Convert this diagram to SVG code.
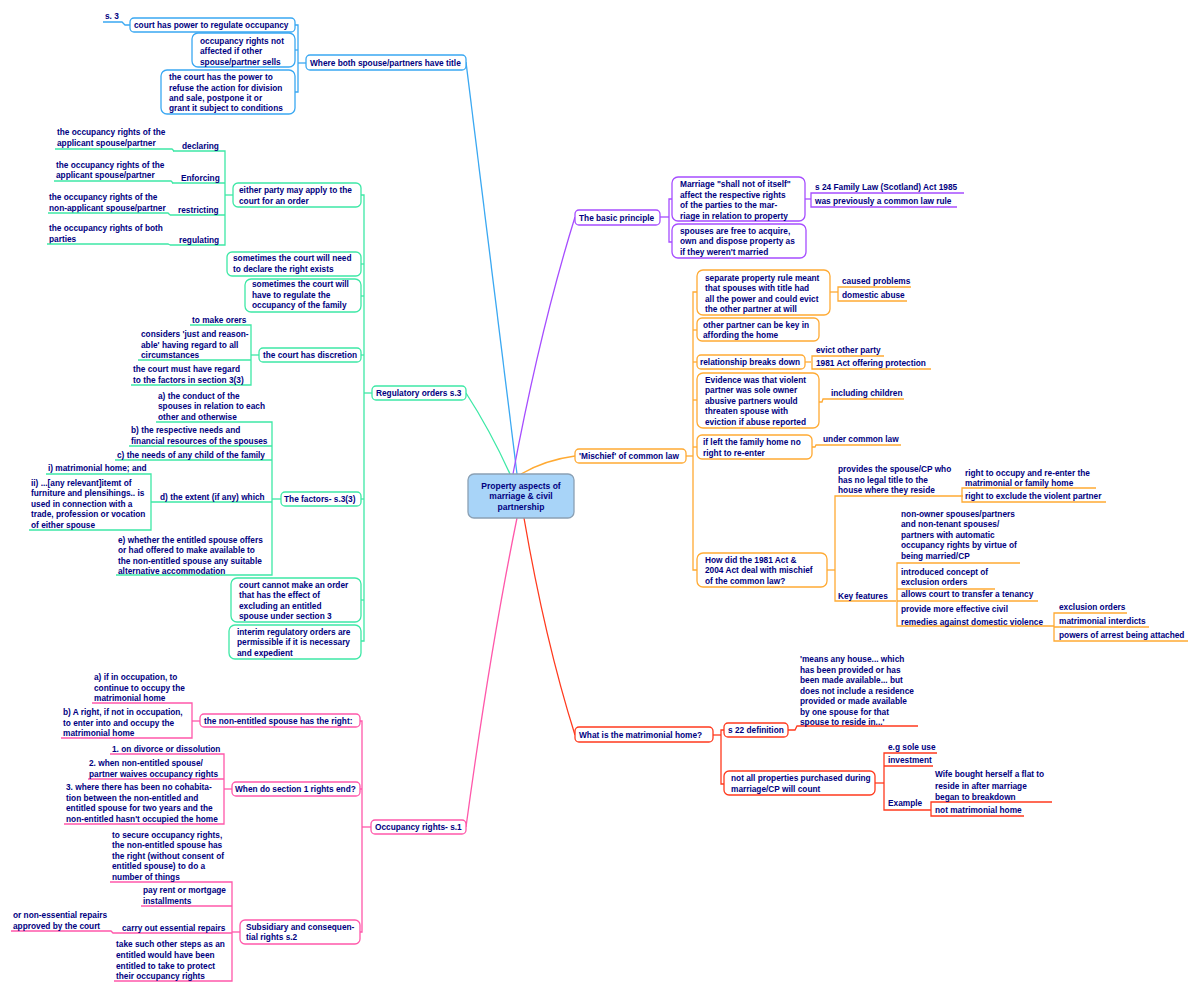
<svg xmlns="http://www.w3.org/2000/svg" width="1200" height="993" viewBox="0 0 1200 993">
<style>
text{font-family:"Liberation Sans",Arial,sans-serif;font-weight:bold;font-size:8.3px;fill:#000080}
.c text{font-size:8.5px}
rect{fill:#fff;stroke-width:1.3}
path,polyline,line{fill:none;stroke-width:1.3}
.B rect,.B path,.B polyline{stroke:#3aa8f2}
.G rect,.G path,.G polyline{stroke:#3ee8a6}
.P rect,.P path,.P polyline{stroke:#ff58aa}
.V rect,.V path,.V polyline{stroke:#a64dff}
.O rect,.O path,.O polyline{stroke:#ffaa33}
.R rect,.R path,.R polyline{stroke:#ff3a1e}
</style>
<rect width="1200" height="993" fill="#fff" style="stroke:none"/>
<g id="connectors">
<path d="M517,474 Q490,260 466,62" stroke="#3aa8f2"/>
<path d="M510,474 Q490,430 466,393" stroke="#3ee8a6"/>
<path d="M517,518 Q490,650 466,827" stroke="#ff58aa"/>
<path d="M513,474 Q540,330 575,217" stroke="#a64dff"/>
<path d="M521,474 Q545,460 575,456" stroke="#ffaa33"/>
<path d="M524,518 Q545,640 575,735" stroke="#ff3a1e"/>
</g>
<g id="center" class="c"><rect x="468" y="474" width="106" height="44" rx="6" style="fill:#a8d4f8;stroke:#8aa0b4"/>
<text text-anchor="middle"><tspan x="521" y="489">Property aspects of</tspan><tspan x="521" y="499">marriage &amp; civil</tspan><tspan x="521" y="510">partnership</tspan></text></g>

<g id="blue" class="B">
<rect x="306" y="55" width="160" height="15" rx="4"/><text x="310" y="66">Where both spouse/partners have title</text>
<polyline points="306,63 298,63"/><polyline points="295,25 298,25 298,92 295,92"/><polyline points="295,50 298,50"/>
<rect x="130" y="18" width="165" height="14" rx="4"/><text x="134" y="28">court has power to regulate occupancy</text>
<text x="105" y="19">s. 3</text><polyline points="103,22 122,22 125,25 130,25"/>
<rect x="192" y="33" width="103" height="34" rx="6"/><text><tspan x="200" y="44">occupancy rights not</tspan><tspan x="200" y="54">affected if other</tspan><tspan x="200" y="65">spouse/partner sells</tspan></text>
<rect x="161" y="70" width="134" height="44" rx="6"/><text><tspan x="169" y="80">the court has the power to</tspan><tspan x="169" y="91">refuse the action for division</tspan><tspan x="169" y="101">and sale, postpone it or</tspan><tspan x="169" y="111">grant it subject to conditions</tspan></text>
</g>

<g id="green" class="G">
<rect x="372" y="386" width="94" height="14" rx="4"/><text x="376" y="396">Regulatory orders s.3</text>
<polyline points="372,393 364,393"/><polyline points="361,195 364,195 364,641 361,641"/>
<polyline points="361,264 364,264"/><polyline points="361,296 364,296"/><polyline points="361,355 364,355"/><polyline points="361,499 364,499"/><polyline points="361,600 364,600"/>
<rect x="233" y="183" width="128" height="24" rx="5"/><text><tspan x="239" y="193">either party may apply to the</tspan><tspan x="239" y="204">court for an order</tspan></text>
<polyline points="233,195 225,195"/><polyline points="173,151 225,151 225,245 170,245"/><polyline points="172,183 225,183"/><polyline points="170,215 225,215"/>
<text x="182" y="149">declaring</text><text><tspan x="57" y="135">the occupancy rights of the</tspan><tspan x="57" y="146">applicant spouse/partner</tspan></text><polyline points="55,149 172,149 174,151"/>
<text x="181" y="181">Enforcing</text><text><tspan x="56" y="168">the occupancy rights of the</tspan><tspan x="56" y="178">applicant spouse/partner</tspan></text><polyline points="54,181 171,181 173,183"/>
<text x="178" y="213">restricting</text><text><tspan x="49" y="200">the occupancy rights of the</tspan><tspan x="49" y="211">non-applicant spouse/partner</tspan></text><polyline points="48,213 168,213 170,215"/>
<text x="179" y="243">regulating</text><text><tspan x="49" y="231">the occupancy rights of both</tspan><tspan x="49" y="242">parties</tspan></text><polyline points="47,244 168,244 170,245"/>
<rect x="227" y="252" width="134" height="24" rx="5"/><text><tspan x="233" y="261">sometimes the court will need</tspan><tspan x="233" y="272">to declare the right exists</tspan></text>
<rect x="245" y="279" width="116" height="33" rx="6"/><text><tspan x="252" y="287">sometimes the court will</tspan><tspan x="252" y="298">have to regulate the</tspan><tspan x="252" y="308">occupancy of the family</tspan></text>
<rect x="259" y="348" width="102" height="14" rx="4"/><text x="263" y="358">the court has discretion</text>
<polyline points="259,355 251,355"/><polyline points="190,325 251,325 251,385 131,385"/><polyline points="138,360 251,360"/>
<text x="192" y="323">to make orers</text>
<text><tspan x="141" y="337">considers 'just and reason-</tspan><tspan x="141" y="348">able' having regard to all</tspan><tspan x="141" y="358">circumstances</tspan></text>
<text><tspan x="133" y="372">the court must have regard</tspan><tspan x="133" y="383">to the factors in section 3(3)</tspan></text>
<rect x="281" y="492" width="80" height="14" rx="4"/><text x="284" y="502">The factors- s.3(3)</text>
<polyline points="281,499 272,499"/><polyline points="156,422 272,422 272,575 116,575"/><polyline points="129,446 272,446"/><polyline points="115,460 272,460"/><polyline points="152,502 272,502"/>
<text><tspan x="158" y="399">a) the conduct of the</tspan><tspan x="158" y="409">spouses in relation to each</tspan><tspan x="158" y="420">other and otherwise</tspan></text>
<text><tspan x="131" y="433">b) the respective needs and</tspan><tspan x="131" y="444">financial resources of the spouses</tspan></text>
<text x="117" y="458">c) the needs of any child of the family</text>
<text x="160" y="500">d) the extent (if any) which</text>
<polyline points="46,474 151,474 151,530 29,530"/><polyline points="151,502 152,502"/>
<text x="48" y="471">i) matrimonial home; and</text>
<text><tspan x="31" y="486">ii) ...[any relevant]itemt of</tspan><tspan x="31" y="496">furniture and plensihings.. is</tspan><tspan x="31" y="507">used in connection with a</tspan><tspan x="31" y="517">trade, profession or vocation</tspan><tspan x="31" y="528">of either spouse</tspan></text>
<text><tspan x="118" y="543">e) whether the entitled spouse offers</tspan><tspan x="118" y="553">or had offered to make available to</tspan><tspan x="118" y="564">the non-entitled spouse any suitable</tspan><tspan x="118" y="574">alternative accommodation</tspan></text>
<rect x="231" y="578" width="130" height="44" rx="6"/><text><tspan x="239" y="588">court cannot make an order</tspan><tspan x="239" y="598">that has the effect of</tspan><tspan x="239" y="609">excluding an entitled</tspan><tspan x="239" y="619">spouse under section 3</tspan></text>
<rect x="229" y="625" width="132" height="34" rx="6"/><text><tspan x="237" y="635">interim regulatory orders are</tspan><tspan x="237" y="645">permissible if it is necessary</tspan><tspan x="237" y="656">and expedient</tspan></text>
</g>

<g id="pink" class="P">
<rect x="371" y="820" width="95" height="14" rx="4"/><text x="375" y="830">Occupancy rights- s.1</text>
<polyline points="371,827 362,827"/><polyline points="360,721 362,721 362,932 360,932"/><polyline points="360,789 362,789"/>
<rect x="200" y="714" width="160" height="13" rx="4"/><text x="204" y="724">the non-entitled spouse has the right:</text>
<polyline points="200,721 192,721"/><polyline points="92,703 192,703 192,738 61,738"/>
<text><tspan x="94" y="680">a) if in occupation, to</tspan><tspan x="94" y="691">continue to occupy the</tspan><tspan x="94" y="701">matrimonial home</tspan></text>
<text><tspan x="63" y="715">b) A right, if not in occupation,</tspan><tspan x="63" y="726">to enter into and occupy the</tspan><tspan x="63" y="736">matrimonial home</tspan></text>
<rect x="232" y="782" width="128" height="14" rx="4"/><text x="235" y="792">When do section 1 rights end?</text>
<polyline points="232,789 224,789"/><polyline points="110,754 224,754 224,824 64,824"/><polyline points="88,779 224,779"/>
<text x="112" y="752">1. on divorce or dissolution</text>
<text><tspan x="89" y="766">2. when non-entitled spouse/</tspan><tspan x="89" y="777">partner waives occupancy rights</tspan></text>
<text><tspan x="66" y="790">3. where there has been no cohabita-</tspan><tspan x="66" y="801">tion between the non-entitled and</tspan><tspan x="66" y="811">entitled spouse for two years and the</tspan><tspan x="66" y="822">non-entitled hasn't occupied the home</tspan></text>
<rect x="240" y="920" width="120" height="24" rx="5"/><text><tspan x="246" y="930">Subsidiary and consequen-</tspan><tspan x="246" y="940">tial rights s.2</tspan></text>
<polyline points="240,932 232,932"/><polyline points="110,882 232,882 232,981 114,981"/><polyline points="141,906 232,906"/><polyline points="11,931 111,931 113,933 232,933"/>
<text><tspan x="112" y="838">to secure occupancy rights,</tspan><tspan x="112" y="848">the non-entitled spouse has</tspan><tspan x="112" y="859">the right (without consent of</tspan><tspan x="112" y="869">entitled spouse) to do a</tspan><tspan x="112" y="880">number of things</tspan></text>
<text><tspan x="143" y="893">pay rent or mortgage</tspan><tspan x="143" y="904">installments</tspan></text>
<text x="122" y="931">carry out essential repairs</text>
<text><tspan x="13" y="918">or non-essential repairs</tspan><tspan x="13" y="929">approved by the court</tspan></text>
<text><tspan x="116" y="947">take such other steps as an</tspan><tspan x="116" y="958">entitled would have been</tspan><tspan x="116" y="969">entitled to take to protect</tspan><tspan x="116" y="979">their occupancy rights</tspan></text>
</g>

<g id="purple" class="V">
<rect x="575" y="210" width="85" height="15" rx="4"/><text x="579" y="221">The basic principle</text>
<polyline points="660,217 669,217"/><polyline points="672,199 669,199 669,242 672,242"/>
<rect x="672" y="177" width="133" height="44" rx="6"/><text><tspan x="680" y="187">Marriage "shall not of itself"</tspan><tspan x="680" y="198">affect the respective rights</tspan><tspan x="680" y="208">of the parties to the mar-</tspan><tspan x="680" y="219">riage in relation to property</tspan></text>
<polyline points="805,199 811,199"/><polyline points="964,193 812,193 811,193 811,207 957,207"/>
<text x="815" y="190">s 24 Family Law (Scotland) Act 1985</text>
<text x="815" y="204">was previously a common law rule</text>
<rect x="672" y="224" width="134" height="34" rx="6"/><text><tspan x="680" y="234">spouses are free to acquire,</tspan><tspan x="680" y="244">own and dispose property as</tspan><tspan x="680" y="255">if they weren't married</tspan></text>
</g>

<g id="orange" class="O">
<rect x="575" y="449" width="111" height="14" rx="4"/><text x="579" y="459">'Mischief' of common law</text>
<polyline points="686,456 693,456"/><polyline points="697,292 693,292 693,570 697,570"/>
<polyline points="693,330 697,330"/><polyline points="693,362 697,362"/><polyline points="693,400 697,400"/><polyline points="693,447 697,447"/>
<rect x="697" y="270" width="133" height="45" rx="6"/><text><tspan x="705" y="281">separate property rule meant</tspan><tspan x="705" y="291">that spouses with title had</tspan><tspan x="705" y="302">all the power and could evict</tspan><tspan x="705" y="312">the other partner at will</tspan></text>
<polyline points="830,292 838,292"/><polyline points="911,287 838,287 838,301 907,301"/>
<text x="842" y="284">caused problems</text><text x="842" y="298">domestic abuse</text>
<rect x="697" y="318" width="122" height="23" rx="5"/><text><tspan x="703" y="328">other partner can be key in</tspan><tspan x="703" y="338">affording the home</tspan></text>
<rect x="697" y="355" width="108" height="14" rx="4"/><text x="700" y="365">relationship breaks down</text>
<polyline points="805,362 811,362"/><polyline points="884,356 812,356 812,369 931,369"/>
<text x="816" y="353">evict other party</text><text x="816" y="366">1981 Act offering protection</text>
<rect x="697" y="373" width="122" height="55" rx="6"/><text><tspan x="705" y="383">Evidence was that violent</tspan><tspan x="705" y="393">partner was sole owner</tspan><tspan x="705" y="404">abusive partners would</tspan><tspan x="705" y="414">threaten spouse with</tspan><tspan x="705" y="425">eviction if abuse reported</tspan></text>
<polyline points="819,402 822,402 823,399 904,399"/><text x="831" y="396">including children</text>
<rect x="697" y="435" width="115" height="24" rx="5"/><text><tspan x="703" y="445">if left the family home no</tspan><tspan x="703" y="456">right to re-enter</tspan></text>
<polyline points="812,447 815,447 816,445 901,445"/><text x="823" y="442">under common law</text>
<rect x="697" y="553" width="130" height="34" rx="6"/><text><tspan x="705" y="563">How did the 1981 Act &amp;</tspan><tspan x="705" y="573">2004 Act deal with mischief</tspan><tspan x="705" y="584">of the common law?</tspan></text>
<polyline points="827,570 835,570"/><polyline points="963,496 835,496 835,601 896,601"/>
<text><tspan x="838" y="472">provides the spouse/CP who</tspan><tspan x="838" y="483">has no legal title to the</tspan><tspan x="838" y="493">house where they reside</tspan></text>
<polyline points="1096,488 962,488 962,502 1106,502"/>
<text><tspan x="965" y="476">right to occupy and re-enter the</tspan><tspan x="965" y="486">matrimonial or family home</tspan></text>
<text x="965" y="499">right to exclude the violent partner</text>
<text x="838" y="599">Key features</text>
<polyline points="1020,563 897,563 897,626 1054,626"/><polyline points="897,589 995,589"/><polyline points="897,601 1038,601"/>
<text><tspan x="901" y="517">non-owner spouses/partners</tspan><tspan x="901" y="527">and non-tenant spouses/</tspan><tspan x="901" y="538">partners with automatic</tspan><tspan x="901" y="548">occupancy rights by virtue of</tspan><tspan x="901" y="559">being married/CP</tspan></text>
<text><tspan x="901" y="575">introduced concept of</tspan><tspan x="901" y="585">exclusion orders</tspan></text>
<text x="901" y="597">allows court to transfer a tenancy</text>
<text><tspan x="901" y="612">provide more effective civil</tspan><tspan x="901" y="625">remedies against domestic violence</tspan></text>
<polyline points="1127,613 1054,613 1054,641 1188,641"/><polyline points="1054,627 1149,627"/>
<text x="1059" y="610">exclusion orders</text><text x="1059" y="624">matrimonial interdicts</text><text x="1059" y="638">powers of arrest being attached</text>
</g>

<g id="red" class="R">
<rect x="575" y="727" width="138" height="15" rx="4"/><text x="579" y="738">What is the matrimonial home?</text>
<polyline points="713,735 721,735"/><polyline points="724,730 721,730 721,784 724,784"/>
<rect x="724" y="723" width="64" height="14" rx="4"/><text x="728" y="733">s 22 definition</text>
<polyline points="788,730 795,730 797,726 918,726"/>
<text><tspan x="800" y="662">'means any house... which</tspan><tspan x="800" y="673">has been provided or has</tspan><tspan x="800" y="683">been made available... but</tspan><tspan x="800" y="694">does not include a residence</tspan><tspan x="800" y="704">provided or made available</tspan><tspan x="800" y="715">by one spouse for that</tspan><tspan x="800" y="725">spouse to reside in...'</tspan></text>
<rect x="724" y="771" width="151" height="24" rx="5"/><text><tspan x="731" y="781">not all properties purchased during</tspan><tspan x="731" y="792">marriage/CP will count</tspan></text>
<polyline points="875,783 884,783"/><polyline points="937,753 884,753 884,810 931,810"/><polyline points="884,766 933,766"/>
<text x="888" y="750">e.g sole use</text><text x="888" y="763">investment</text><text x="888" y="806">Example</text>
<polyline points="1052,802 931,802 931,816 1024,816"/>
<text><tspan x="935" y="777">Wife bought herself a flat to</tspan><tspan x="935" y="789">reside in after marriage</tspan><tspan x="935" y="800">began to breakdown</tspan></text>
<text x="935" y="813">not matrimonial home</text>
</g>
</svg>
